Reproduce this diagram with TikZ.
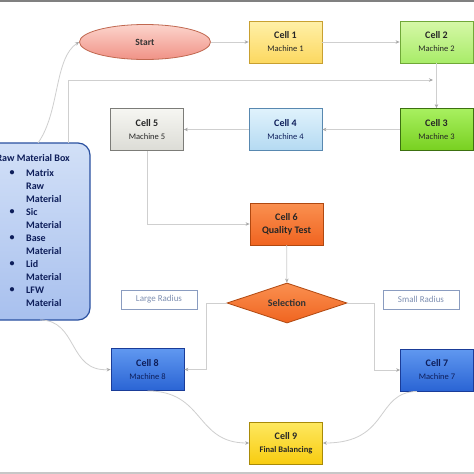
\documentclass[tikz,border=0pt]{standalone}
\usepackage{fontspec}
\setmainfont{Carlito}
\usetikzlibrary{shapes.geometric,arrows.meta}

\definecolor{linkgray}{HTML}{CFCFCF}
\definecolor{tipgray}{HTML}{A8A8A8}
\definecolor{navy}{HTML}{0E1E5A}
\definecolor{tagblue}{HTML}{8A9CC0}
\definecolor{tagtext}{HTML}{7F90B2}
\definecolor{rawline}{HTML}{2A50A0}
\definecolor{rawtop}{HTML}{D2E0F7}
\definecolor{rawbot}{HTML}{A8C0EE}
\definecolor{startline}{HTML}{C06850}
\definecolor{starttop}{HTML}{FCD4CC}
\definecolor{startbot}{HTML}{F09286}
\definecolor{yelline}{HTML}{C8A030}
\definecolor{yeltop}{HTML}{FFF0A8}
\definecolor{yelbot}{HTML}{FCD860}
\definecolor{limeline}{HTML}{70A838}
\definecolor{limetop}{HTML}{D6F8A8}
\definecolor{limebot}{HTML}{A8EC68}
\definecolor{greenline}{HTML}{3C7010}
\definecolor{greentop}{HTML}{A8F060}
\definecolor{greenbot}{HTML}{78D020}
\definecolor{skyline}{HTML}{5888B0}
\definecolor{skytop}{HTML}{E0F2FC}
\definecolor{skybot}{HTML}{B4DAF2}
\definecolor{greyline}{HTML}{7C7C78}
\definecolor{greytop}{HTML}{F6F6F2}
\definecolor{greybot}{HTML}{DCDCD6}
\definecolor{orline}{HTML}{B04810}
\definecolor{ortop}{HTML}{FA9050}
\definecolor{orbot}{HTML}{F06420}
\definecolor{blueline}{HTML}{1A3C98}
\definecolor{bluetop}{HTML}{6098F0}
\definecolor{bluebot}{HTML}{2A64D4}
\definecolor{goldline}{HTML}{A88A08}
\definecolor{goldtop}{HTML}{FEE860}
\definecolor{goldbot}{HTML}{F8CC10}

\tikzset{
  cellbox/.style={rectangle, minimum width=73pt, minimum height=42pt, inner sep=1pt,
    align=center, line width=0.8pt, font=\fontsize{10}{12}\selectfont\bfseries},
  paint/.style={draw=#1line, top color=#1top, bottom color=#1bot},
  link/.style={draw=linkgray, line width=0.8pt,
    -{Stealth[length=4pt,width=3.5pt,color=tipgray]}},
  radiustag/.style={draw=tagblue, line width=0.5pt, minimum width=76pt, minimum height=19pt,
    inner sep=1pt, text=tagtext, font=\fontsize{9}{10}\selectfont},
  rawitem/.style={inner sep=0pt, text=navy, font=\fontsize{10}{12}\selectfont\bfseries}
}
\newcommand{\machine}[1]{\\[1pt]{\fontsize{8.5}{10}\selectfont\mdseries #1}}

\begin{document}
\begin{tikzpicture}[x=1pt,y=-1pt]
\useasboundingbox (0,0) rectangle (474,474);
\clip (0,0) rectangle (474,474);
\fill[white] (0,0) rectangle (474,474);
\fill[black!50] (0,0) rectangle (474,2);
\fill[black!22] (0,472) rectangle (474,474);

% raw material box
\node[rectangle, rounded corners=12pt, minimum width=124pt, minimum height=177pt,
  line width=1.2pt, paint=raw] (raw) at (28,231.5) {};
\node[rawitem, anchor=east] (rawtitle) at (70,158) {Raw Material Box};
\foreach \y/\t in {173/Matrix,186/Raw,199/Material,212/Sic,225/Material,238/Base,
  251/Material,264/Lid,277/Material,290/LFW,303/Material}
  \node[rawitem, anchor=west] (item\y) at (26,\y) {\t};
\foreach \y in {173,212,238,264,290}
  \node[rawitem] (dot\y) at (12,\y) {\textbullet};

% process cells
\node[ellipse, minimum width=131pt, minimum height=35pt, line width=0.8pt, paint=start,
  font=\fontsize{9.5}{11}\selectfont\bfseries, text=black!80] (start) at (145,42) {Start};
\node[cellbox, paint=yel, text=black!85] (cell1) at (285.5,42) {Cell 1\machine{Machine 1}};
\node[cellbox, paint=lime, text=black!85] (cell2) at (436.5,42) {Cell 2\machine{Machine 2}};
\node[cellbox, paint=green, text=black!85] (cell3) at (436.5,129.5) {Cell 3\machine{Machine 3}};
\node[cellbox, paint=sky, text=navy] (cell4) at (285.5,129.5) {Cell 4\machine{Machine 4}};
\node[cellbox, paint=grey, text=black!85] (cell5) at (147,129.5) {Cell 5\machine{Machine 5}};
\node[cellbox, paint=or, text=black!85] (cell6) at (286.5,224) {Cell 6\\[1pt]Quality Test};
\node[diamond, aspect=3, inner sep=0pt, minimum width=120pt, minimum height=40pt,
  line width=0.8pt, paint=or, font=\fontsize{10}{12}\selectfont\bfseries,
  text=black!80] (sel) at (287,303) {Selection};
\node[radiustag] (large) at (159,299.5) {Large Radius};
\node[radiustag] (small) at (421,299.5) {Small Radius};
\node[cellbox, paint=blue, text=navy] (cell8) at (147.5,369.5) {Cell 8\machine{Machine 8}};
\node[cellbox, paint=blue, text=navy] (cell7) at (437,370) {Cell 7\machine{Machine 7}};
\node[cellbox, paint=gold, text=black!85] (cell9) at (286,443) {Cell 9\machine{\bfseries Final Balancing}};

% connectors
\coordinate (rawjoin) at (68,143);
\coordinate (rawleft) at (38,143);
\coordinate (rawfoot) at (40,320);
\coordinate (feed) at (433,80);
\draw[link] (start) -- (cell1);
\draw[link] (cell1) -- (cell2);
\draw[link] (cell2) -- (cell3);
\draw[link] (cell3) -- (cell4);
\draw[link] (cell4) -- (cell5);
\draw[link] (cell5.south) |- (cell6.west);
\draw[link] (cell6) -- (sel);
\draw[link] (rawjoin) |- (feed);
\draw[link] (rawleft) .. controls (60,112) and (54,58) .. (start.west);
\draw[link] (rawfoot) .. controls (78,320) and (68,372) .. (cell8.west);
\draw[link] (sel.west) -- (206,303) |- (cell8.east);
\draw[link] (sel.east) -- (374,303) |- (cell7.west);
\draw[link] (cell8.south) .. controls (205,391) and (195,443) .. (cell9.west);
\draw[link] ([xshift=-20pt]cell7.south) .. controls (375,392) and (390,443) .. (cell9.east);
\end{tikzpicture}
\end{document}
